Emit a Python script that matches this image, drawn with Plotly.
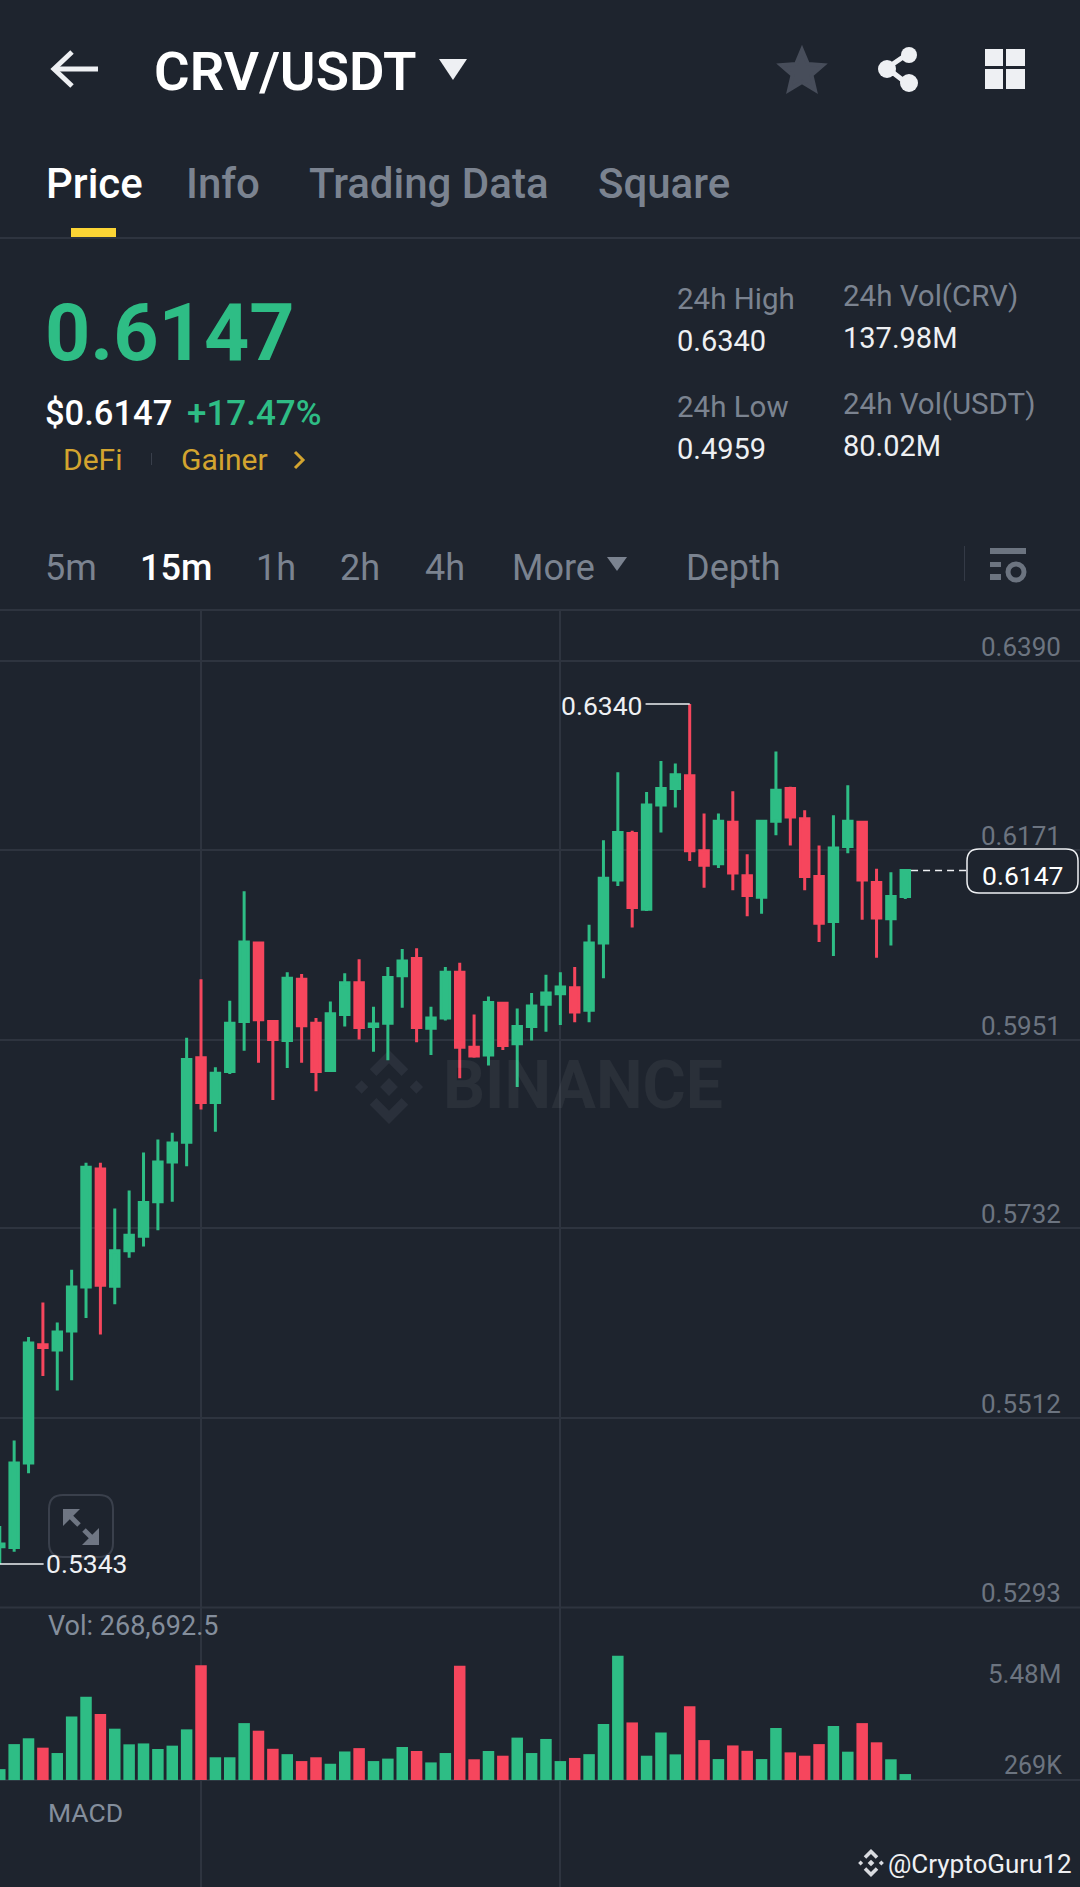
import math
import plotly.graph_objects as go

# 15m candles
opens = [.5363, .5362, .5460, .5597, .5591, .5613, .5664, .5801, .5665, .5706,
         .5723, .5763, .5809, .5832, .5930, .5878, .5914, .5972, .6063, .5972,
         .5950, .6021, .5970, .5915, .5980, .6017, .5966, .5970, .6025, .6045,
         .5964, .5976, .6029, .5942, .5933, .5993, .5946, .5966, .5992, .6004,
         .6011, .5985, .6063, .6136, .6190, .6102, .6223, .6242, .6257, .6170,
         .6155, .6203, .6141, .6116, .6204, .6242, .6207, .6140, .6088, .6175,
         .6203, .6133, .6091, .6117]
highs = [.5387, .5486, .5606, .5646, .5623, .5684, .5808, .5808, .5755, .5776,
         .5820, .5835, .5843, .5953, .6021, .5919, .5996, .6123, .6064, .5973,
         .6029, .6027, .5976, .5995, .6028, .6044, .5989, .6035, .6056, .6057,
         .5989, .6035, .6040, .5980, .6001, .5994, .5987, .6005, .6026, .6029,
         .6035, .6084, .6182, .6261, .6193, .6238, .6274, .6271, .6340, .6213,
         .6213, .6239, .6166, .6205, .6285, .6244, .6217, .6176, .6211, .6246,
         .6204, .6149, .6145, .6147]
lows = [.5343, .5357, .5448, .5561, .5544, .5556, .5628, .5609, .5644, .5698,
        .5711, .5730, .5763, .5804, .5870, .5844, .5911, .5938, .5924, .5881,
        .5918, .5924, .5891, .5914, .5966, .5951, .5937, .5927, .5988, .5948,
        .5933, .5973, .5906, .5930, .5921, .5939, .5896, .5950, .5960, .5968,
        .5971, .5971, .6022, .6129, .6081, .6100, .6191, .6220, .6158, .6127,
        .6150, .6124, .6094, .6097, .6188, .6176, .6124, .6064, .6048, .6167,
        .6090, .6046, .6060, .6114]
closes = [.5366, .5460, .5599, .5594, .5612, .5664, .5803, .5666, .5706, .5724,
          .5762, .5809, .5831, .5928, .5878, .5912, .5970, .6064, .5974, .5951,
          .6022, .5967, .5914, .5981, .6017, .5965, .5969, .6023, .6042, .5965,
          .5976, .6029, .5942, .5932, .5994, .5944, .5966, .5990, .6005, .6012,
          .5983, .6063, .6138, .6191, .6104, .6223, .6242, .6258, .6170, .6153,
          .6204, .6144, .6118, .6204, .6240, .6209, .6140, .6086, .6173, .6204,
          .6136, .6092, .6117, .6147]
# volume in millions
volumes = [0.49, 1.61, 1.87, 1.45, 1.21, 2.85, 3.73, 2.96, 2.30, 1.60,
           1.64, 1.39, 1.54, 2.27, 5.14, 1.02, 1.02, 2.55, 2.21, 1.40,
           1.16, 0.85, 1.02, 0.73, 1.28, 1.43, 0.85, 0.96, 1.48, 1.30,
           0.79, 1.21, 5.12, 0.93, 1.30, 1.09, 1.90, 1.21, 1.84, 0.85,
           0.99, 1.16, 2.51, 5.57, 2.58, 1.09, 2.13, 1.15, 3.31, 1.79,
           0.94, 1.55, 1.31, 0.94, 2.33, 1.24, 1.09, 1.61, 2.42, 1.27,
           2.55, 1.69, 0.93, 0.268692]
candle_x = list(range(len(opens)))

price_ticks = [0.6390, 0.6171, 0.5951, 0.5732, 0.5512, 0.5293]
price_labels = ["0.6390", "0.6171", "0.5951", "0.5732", "0.5512", "0.5293"]
time_ticks = [14, 39]
last_price = 0.6147
high_price = 0.6340
high_index = 48
low_price = 0.5343
low_index = 0

BG = "#1e242e"
GRID = "#2e343f"
GREEN = "#2ebd85"
RED = "#f6465d"
GREY = "#848e9c"
DIM = "#6c7480"
TAB = "#7b8390"
WHITE = "#eef0f3"
GOLD = "#d3a42f"
FONT = "Roboto"
W, H = 1080, 1887


def px(x, y):
    return x / W, 1 - y / H


shapes = []
annotations = []


def label(text, x, y, size, color=GREY, anchor="left", weight=400):
    fx, fy = px(x, y)
    annotations.append(dict(text=text, x=fx, y=fy, xref="paper", yref="paper", showarrow=False,
                            xanchor=anchor, yanchor="middle",
                            font=dict(family=FONT, size=size, color=color, weight=weight)))


def poly(points, fill=None, line=None, width=0, closed=True, layer="above", dash=None):
    coords = [px(x, y) for x, y in points]
    path = "M " + " L ".join(f"{a:.5f} {b:.5f}" for a, b in coords)
    if closed:
        path += " Z"
    shapes.append(dict(type="path", path=path, xref="paper", yref="paper", layer=layer,
                       fillcolor=fill if fill else "rgba(0,0,0,0)",
                       line=dict(color=line if line else "rgba(0,0,0,0)", width=width, dash=dash or "solid")))


def box(x0, y0, x1, y1, fill, layer="above"):
    poly([(x0, y0), (x1, y0), (x1, y1), (x0, y1)], fill=fill, layer=layer)


def circle(cx, cy, r, fill, line=None, width=0):
    a, b = px(cx - r, cy - r)
    c, d = px(cx + r, cy + r)
    shapes.append(dict(type="circle", xref="paper", yref="paper", x0=a, y0=d, x1=c, y1=b,
                       fillcolor=fill, line=dict(color=line or fill, width=width)))


def rounded(x0, y0, x1, y1, r, fill, line, width):
    a, b = px(x0, y0)
    c, d = px(x1, y1)
    rx, ry = r / W, r / H
    path = (f"M {a + rx:.5f} {b:.5f} L {c - rx:.5f} {b:.5f} Q {c:.5f} {b:.5f} {c:.5f} {b - ry:.5f} "
            f"L {c:.5f} {d + ry:.5f} Q {c:.5f} {d:.5f} {c - rx:.5f} {d:.5f} "
            f"L {a + rx:.5f} {d:.5f} Q {a:.5f} {d:.5f} {a:.5f} {d + ry:.5f} "
            f"L {a:.5f} {b - ry:.5f} Q {a:.5f} {b:.5f} {a + rx:.5f} {b:.5f} Z")
    shapes.append(dict(type="path", path=path, xref="paper", yref="paper", fillcolor=fill,
                       line=dict(color=line, width=width)))


def logo(cx, cy, r, color, layer="above"):
    def pts(items):
        return [(cx + a * r, cy + b * r) for a, b in items]
    poly(pts([(0, -.24), (.24, 0), (0, .24), (-.24, 0)]), fill=color, layer=layer)
    poly(pts([(-.74, -.18), (-.56, 0), (-.74, .18), (-.92, 0)]), fill=color, layer=layer)
    poly(pts([(.74, -.18), (.92, 0), (.74, .18), (.56, 0)]), fill=color, layer=layer)
    poly(pts([(0, -1), (.52, -.48), (.34, -.3), (0, -.64), (-.34, -.3), (-.52, -.48)]), fill=color, layer=layer)
    poly(pts([(0, 1), (.52, .48), (.34, .3), (0, .64), (-.34, .3), (-.52, .48)]), fill=color, layer=layer)


# header
poly([(98, 69), (54, 69)], line=WHITE, width=5, closed=False)
poly([(72, 52), (54, 69), (72, 86)], line=WHITE, width=5, closed=False)
label("CRV/USDT", 152, 71, 54.5, "#ffffff", weight=600)
poly([(439, 59), (467, 59), (453, 80)], fill=WHITE)
star = []
for k in range(10):
    r = 22 if k % 2 == 0 else 10
    ang = -math.pi / 2 + k * math.pi / 5
    star.append((802 + r * math.cos(ang), 72 + r * math.sin(ang)))
poly(star, fill="#474d5a", line="#474d5a", width=4)
poly([(909, 53), (887, 68), (909, 85)], line=WHITE, width=5, closed=False)
circle(909, 55, 8, WHITE)
circle(887, 69, 9, WHITE)
circle(909, 83, 9, WHITE)
box(985, 49, 1003, 66, WHITE)
box(1006, 49, 1025, 66, WHITE)
box(985, 69, 1003, 89, WHITE)
box(1006, 69, 1025, 89, WHITE)

# tabs
label("Price", 44, 184, 42, "#ffffff", weight=500)
label("Info", 184, 184, 42, TAB, weight=500)
label("Trading Data", 307, 184, 42, TAB, weight=500)
label("Square", 596, 184, 42, TAB, weight=500)
box(71, 228, 116, 237, "#fcd535")
box(0, 237, W, 239, GRID)

# ticker block
label("0.6147", 43, 333, 79, GREEN, weight=700)
label("$0.6147", 43, 413, 34.5, "#ffffff", weight=500)
label("+17.47%", 185, 413, 35, GREEN, weight=500)
label("DeFi", 61, 460, 30, GOLD)
box(151, 453, 152, 465, "#3a404c")
label("Gainer", 179, 460, 30, GOLD)
poly([(295, 452), (303, 460), (295, 468)], line=GOLD, width=3, closed=False)
label("24h High", 675, 299, 29.5, TAB)
label("0.6340", 675, 341, 29, WHITE)
label("24h Low", 675, 407, 29.5, TAB)
label("0.4959", 675, 449, 29, WHITE)
label("24h Vol(CRV)", 841, 296, 29.5, TAB)
label("137.98M", 841, 338, 29, WHITE)
label("24h Vol(USDT)", 841, 404, 29.5, TAB)
label("80.02M", 841, 446, 29, WHITE)

# interval row
for text, x in [("5m", 43), ("1h", 254), ("2h", 338), ("4h", 423), ("More", 510), ("Depth", 684)]:
    label(text, x, 568, 36, TAB)
label("15m", 138, 568, 36, "#ffffff", weight=500)
poly([(607, 557), (627, 557), (617, 571)], fill=TAB)
box(964, 546, 965, 581, "#343a46")
box(990, 548, 1026, 554, DIM)
box(990, 562, 1001, 567, DIM)
box(990, 574, 1001, 580, DIM)
circle(1016, 572, 8, BG, line=DIM, width=5)
box(0, 609, W, 611, GRID)
box(0, 1606.5, W, 1608.5, GRID, layer="below")

# watermark, under the candles
logo(389, 1087, 37, "#2a303b", layer="below")
fx, fy = px(441, 1085)
annotations.append(dict(text="<b>BINANCE</b>", x=fx, y=fy, xref="paper", yref="paper", showarrow=False,
                        xanchor="left", yanchor="middle",
                        font=dict(family=FONT, size=66, color="rgba(255,255,255,0.055)")))

# price labels on the right, sitting on their grid lines
for tick, text in zip(price_ticks, price_labels):
    annotations.append(dict(text=text, x=1063 / W, y=tick, xref="paper", yref="y", showarrow=False,
                            xanchor="right", yanchor="bottom", yshift=-3,
                            font=dict(family=FONT, size=26, color=DIM)))

# high / low markers
shapes.append(dict(type="line", xref="x", yref="y", x0=high_index, x1=high_index - 3.07,
                   y0=high_price, y1=high_price, line=dict(color=WHITE, width=1.5)))
annotations.append(dict(text=f"{high_price:.4f}", x=high_index - 3.15, y=high_price, xref="x", yref="y",
                        showarrow=False, xanchor="right", yanchor="middle", yshift=-1,
                        font=dict(family=FONT, size=26.5, color=WHITE)))
shapes.append(dict(type="line", xref="x", yref="y", x0=low_index, x1=low_index + 3.05,
                   y0=low_price, y1=low_price, line=dict(color=WHITE, width=1.5)))
annotations.append(dict(text=f"{low_price:.4f}", x=low_index + 3.05, y=low_price, xref="x", yref="y",
                        showarrow=False, xanchor="left", yanchor="middle",
                        font=dict(family=FONT, size=26.5, color=WHITE)))

# last price line and pill
shapes.append(dict(type="line", xref="x", yref="y", x0=len(opens) - 0.6, x1=967 / 14.373,
                   y0=last_price, y1=last_price, line=dict(color=WHITE, width=1.5, dash="7px,5px")))
rounded(967, 849, 1078, 893, 12, BG, WHITE, 1.5)
label(f"{last_price:.4f}", 1022, 875, 26.5, "#ffffff", anchor="center")

# expand button
rounded(49, 1495, 113, 1557, 14, "rgba(0,0,0,0)", "#3a404c", 2)
poly([(63, 1509), (80, 1509), (63, 1526)], fill="#6f7683")
poly([(68, 1514), (79, 1525)], line="#6f7683", width=5, closed=False)
poly([(99, 1545), (82, 1545), (99, 1528)], fill="#6f7683")
poly([(84, 1530), (94, 1540)], line="#6f7683", width=5, closed=False)

# volume / macd texts
label("Vol: 268,692.5", 46, 1626, 27, GREY)
label("MACD", 46, 1812, 26.5, GREY)
label("5.48M", 1063, 1674, 26, DIM, anchor="right")
label("269K", 1064, 1765, 25, DIM, anchor="right")

# credit
logo(871, 1863, 14, "#d9dbe0")
label("@CryptoGuru12", 886, 1864, 26, WHITE)

fig = go.Figure()
fig.add_trace(go.Candlestick(x=candle_x, open=opens, high=highs, low=lows, close=closes,
                             increasing=dict(line=dict(color=GREEN, width=3), fillcolor=GREEN),
                             decreasing=dict(line=dict(color=RED, width=3), fillcolor=RED),
                             whiskerwidth=0, showlegend=False, xaxis="x", yaxis="y"))
fig.add_trace(go.Bar(x=candle_x, y=volumes, showlegend=False, xaxis="x2", yaxis="y2",
                     marker=dict(color=[GREEN if c >= o else RED for o, c in zip(opens, closes)], line=dict(width=0))))

x_range = [0.015, 75.155]
fig.update_layout(
    width=W, height=H, margin=dict(l=0, r=0, t=0, b=0),
    paper_bgcolor=BG, plot_bgcolor=BG, bargap=0.2, boxgap=0.41, boxgroupgap=0,
    shapes=shapes, annotations=annotations, showlegend=False,
    xaxis=dict(domain=[0, 1], range=x_range, tickvals=time_ticks, showticklabels=False, ticks="",
               showgrid=True, gridcolor=GRID, gridwidth=1.5, zeroline=False, showline=False,
               rangeslider=dict(visible=False), anchor="y"),
    yaxis=dict(domain=[1 - 1607 / H, 1 - 610 / H], range=[0.5293, 0.64491], tickvals=price_ticks,
               showticklabels=False, ticks="", showgrid=True, gridcolor=GRID, gridwidth=1.5,
               zeroline=False, showline=False, anchor="x"),
    xaxis2=dict(domain=[0, 1], range=x_range, tickvals=time_ticks, showticklabels=False, ticks="",
                showgrid=True, gridcolor=GRID, gridwidth=1.5, zeroline=False, showline=False, anchor="y2"),
    yaxis2=dict(domain=[0, 1 - 1607 / H], range=[-4.79, 7.75], tickvals=[0], showticklabels=False, ticks="",
                showgrid=True, gridcolor=GRID, gridwidth=1.5, zeroline=False, showline=False, anchor="x2"),
)

# the page body has a default margin, drop it so the chart fills the window
fig.write_html("out.html", config={"displayModeBar": False},
               post_script="document.body.style.margin='0';document.body.style.background='#1e242e';")
